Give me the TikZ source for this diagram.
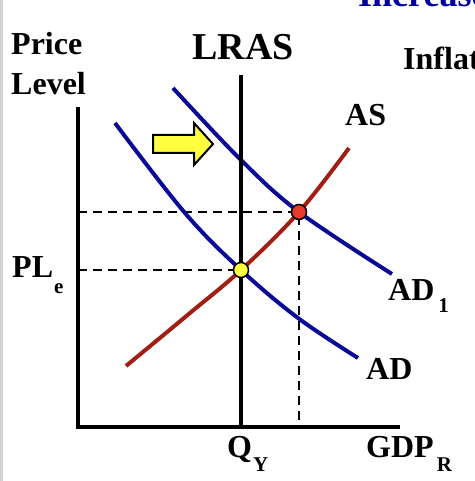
\documentclass[tikz,border=0pt]{standalone}
\usepackage{fontspec}
\setmainfont{Liberation Serif}
\usetikzlibrary{calc}
\definecolor{adblue}{HTML}{0A0A96}
\definecolor{asred}{HTML}{A01E14}
\definecolor{ptyellow}{HTML}{FFFF40}
\definecolor{ptred}{HTML}{E8392C}
\definecolor{headblue}{HTML}{0000A0}
\tikzset{
  lbl/.style={anchor=base west,inner sep=0pt,font=\bfseries\fontsize{32}{32}\selectfont},
  axis/.style={line width=4.5pt},
  guide/.style={line width=2.5pt,dash pattern=on 9pt off 6pt},
  adline/.style={adblue,line width=4pt},
  asline/.style={asred,line width=4pt},
  eqpt/.style={circle,draw,line width=1.5pt,minimum size=15pt,inner sep=0pt},
  shiftarrow/.style={draw,fill=ptyellow,line width=2pt,line join=miter},
}
\newcommand{\lowidx}[3]{\hspace{#1}\raisebox{-#2}{\fontsize{21}{21}\selectfont #3}}

\begin{document}
\begin{tikzpicture}[x=1pt,y=-1pt]
\useasboundingbox (0,0) rectangle (474,481);
\clip (0,0) rectangle (474,481);
\fill[gray!35] (0,0) rectangle (2.5,481);

% axes and points
\coordinate (orig) at (78,427);
\coordinate (ytop) at (78,107);
\coordinate (xend) at (400,427);
\coordinate (lrtop) at (241,75);
\coordinate (e0) at (241,270);
\coordinate (e1) at (299,212);

% labels
\node[lbl,headblue,font=\bfseries\fontsize{36}{36}\selectfont] (ttl) at (358,7) {Increase};
\node[lbl] (price) at (11,55) {Price};
\node[lbl] (level) at (11,95) {Level};
\node[lbl,anchor=base,font=\bfseries\fontsize{38}{38}\selectfont] (lrlab) at (243,60) {LRAS};
\node[lbl] (infl) at (403,70) {Inflation};
\node[lbl] (aslab) at (345,126) {AS};
\node[lbl] (ad1lab) at (388,300) {AD\lowidx{4pt}{12pt}{1}};
\node[lbl] (adlab) at (366,379) {AD};
\node[lbl] (pllab) at (12,277) {PL\lowidx{1pt}{16pt}{e}};
\node[lbl] (qlab) at (227,457) {Q\lowidx{1pt}{14pt}{Y}};
\node[lbl] (gdplab) at (366,457) {GDP\lowidx{3pt}{14pt}{R}};

% dashed guides
\draw[guide] (e0 -| ytop) -- (e0);
\draw[guide] (e1 -| ytop) -- (e1) -- (e1 |- orig);

% curves
\draw[adline] plot[smooth,tension=0.6] coordinates {(115,123) (185,213) (e0) (298,318) (358,358)};
\draw[adline] plot[smooth,tension=0.6] coordinates {(173,88) (240,159) (e1) (392,274)};
\draw[asline] plot[smooth,tension=0.6] coordinates {(126,366) (190,313) (e0) (e1) (349,148)};

\draw[axis] (lrtop) -- (lrtop |- orig);
\draw[axis,line join=miter] (ytop) -- (orig) -- (xend);

% shift arrow
\draw[shiftarrow] (153,135) -- (194,135) -- (194,123) -- (213,144)
  -- (194,165) -- (194,153) -- (153,153) -- cycle;

\node[eqpt,fill=ptyellow] (eq0) at (e0) {};
\node[eqpt,fill=ptred] (eq1) at (e1) {};
\end{tikzpicture}
\end{document}
